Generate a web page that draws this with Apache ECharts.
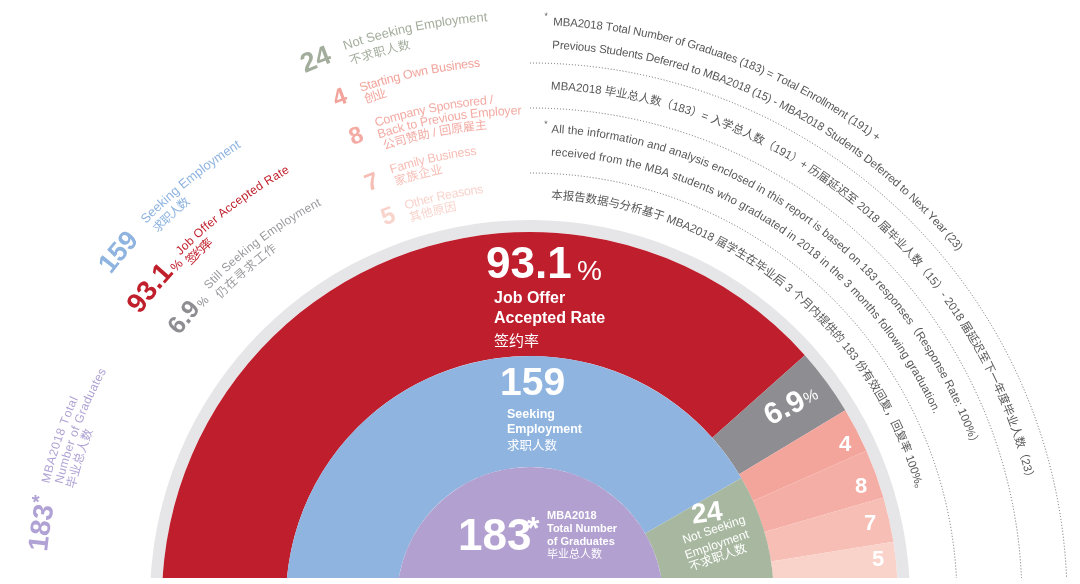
<!DOCTYPE html>
<html>
<head>
<meta charset="utf-8">
<title>MBA2018 Employment</title>
<script src="https://cdn.jsdelivr.net/npm/echarts@6/dist/echarts.min.js"></script>
<style>html,body{margin:0;padding:0;background:#fff}#chart{width:1080px;height:584px}</style>
</head>
<body>
<div id="chart"></div>
<script>
// values
var outerNames = ['Job Offer Accepted', 'Still Seeking Employment', 'Starting Own Business', 'Company Sponsored / Back to Previous Employer', 'Family Business', 'Other Reasons'];
var outerValues = [148, 11, 4, 8, 7, 5];
var innerNames = ['Seeking Employment', 'Not Seeking Employment'];
var innerValues = [159, 24];
var totalGraduates = [183];
var rates = [93.1, 6.9];

var outerColors = ['#bf1e2d', '#8e8d92', '#f3a49b', '#f5aea5', '#f7beb5', '#f9d2ca'];
var innerColors = ['#8fb4e0', '#a8b8a0'];
var coreColor = '#b2a0d0';

var CX = 530, CY = 600;
var FONT = '"Liberation Sans", "Noto Sans CJK SC", Arial, sans-serif';
var mctx = document.createElement('canvas').getContext('2d');
var graphics = [];

// text laid along a circle round the chart centre, reading clockwise
function arcText(str, r, startDeg, size, color, opt) {
  opt = opt || {};
  var weight = opt.weight || 'normal';
  mctx.font = weight + ' ' + size + 'px ' + FONT;
  var chars = Array.from(str);
  var w = chars.map(function (c) { return mctx.measureText(c).width; });
  var total = w.reduce(function (s, v) { return s + v; }, 0);
  var gap = 0;
  if (opt.endDeg != null && chars.length > 1) {
    gap = ((startDeg - opt.endDeg) * Math.PI / 180 * r - total) / (chars.length - 1);
  }
  var a = startDeg * Math.PI / 180;
  chars.forEach(function (c, i) {
    var mid = a - w[i] / 2 / r;
    if (c.trim()) {
      graphics.push({
        type: 'text', silent: true, z: 10,
        x: CX + r * Math.cos(mid), y: CY - r * Math.sin(mid),
        rotation: mid - Math.PI / 2,
        style: { text: c, fontSize: size, fontWeight: weight, fontFamily: FONT, fill: color, align: 'center', verticalAlign: 'middle' }
      });
    }
    a -= (w[i] + gap) / r;
  });
  return a * 180 / Math.PI;
}

function flatText(str, x, y, size, color, opt) {
  opt = opt || {};
  graphics.push({
    type: 'text', silent: true, z: 10, x: x, y: y, rotation: (opt.rot || 0) * Math.PI / 180,
    style: { text: str, fontSize: size, fontWeight: opt.weight || 'normal', fontFamily: FONT, fill: color, align: opt.align || 'left', verticalAlign: 'middle' }
  });
}

// labels inside the rings
flatText(rates[0].toFixed(1), 486, 266, 44, '#fff', { weight: 'bold' });
flatText('%', 577, 272, 28, '#fff');
flatText('Job Offer', 494, 299, 16, '#fff', { weight: 'bold' });
flatText('Accepted Rate', 494, 318.5, 16, '#fff', { weight: 'bold' });
flatText('签约率', 494, 342, 15, '#fff');
flatText(String(innerValues[0]), 500, 384, 39, '#fff', { weight: 'bold' });
flatText('Seeking', 507, 415, 12.5, '#fff', { weight: 'bold' });
flatText('Employment', 507, 430, 12.5, '#fff', { weight: 'bold' });
flatText('求职人数', 507, 447, 12.5, '#fff');
flatText(String(totalGraduates[0]), 458, 538, 44, '#fff', { weight: 'bold' });
flatText('*', 527, 530, 32, '#fff', { weight: 'bold' });
flatText('MBA2018', 547, 516, 11, '#fff', { weight: 'bold' });
flatText('Total Number', 547, 529, 11, '#fff', { weight: 'bold' });
flatText('of Graduates', 547, 542, 11, '#fff', { weight: 'bold' });
flatText('毕业总人数', 547, 555, 11, '#fff');
flatText(rates[1].toFixed(1), 785, 409, 30, '#fff', { weight: 'bold', align: 'center', rot: 27 });
flatText('%', 811, 397, 16, '#fff', { align: 'center', rot: 27 });
flatText(String(innerValues[1]), 707, 514, 28, '#fff', { weight: 'bold', align: 'center', rot: 8 });
flatText('Not Seeking', 714, 530, 12, '#fff', { align: 'center', rot: 19 });
flatText('Employment', 717, 545, 12, '#fff', { align: 'center', rot: 19 });
flatText('不求职人数', 718, 558, 12, '#fff', { align: 'center', rot: 19 });
var pinkPos = [[845, 445], [861, 487], [870, 524], [878, 560]];
outerValues.slice(2).forEach(function (v, i) {
  flatText(String(v), pinkPos[i][0], pinkPos[i][1], 22, '#fff', { weight: 'bold', align: 'center' });
});

// curved labels on the left
var BLUE_T = '#8fb4e0', RED_T = '#c0202b', GREY_T = '#8e8d92', GREY_S = '#9a9a9e', PURPLE_T = '#b0a2d4';
arcText(String(innerValues[0]), 538, 142.2, 27, BLUE_T, { weight: 'bold' });
arcText('Seeking Employment', 541, 135.6, 13, BLUE_T, { endDeg: 122.5 });
arcText('求职人数', 526, 135.4, 12, BLUE_T, { endDeg: 130.5 });
var e = arcText(rates[0].toFixed(1), 491, 143.8, 28, RED_T, { weight: 'bold' });
arcText('%', 486, e - 0.2, 13, RED_T);
arcText('Job Offer Accepted Rate', 494, 135.4, 12, RED_T, { endDeg: 119.3 });
arcText('签约率', 480, 135.4, 12, RED_T, { endDeg: 131.6 });
e = arcText(rates[1].toFixed(1), 446, 143, 25, GREY_T, { weight: 'bold' });
arcText('%', 442, e - 0.2, 12, GREY_T);
arcText('Still Seeking Employment', 450, 136, 12, GREY_S, { endDeg: 117.8 });
arcText('仍在寻求工作', 435, 135.8, 12, GREY_S, { endDeg: 125.8 });
e = arcText(String(totalGraduates[0]), 493, 174.3, 28, PURPLE_T, { weight: 'bold' });
arcText('*', 500, e, 20, PURPLE_T, { weight: 'bold' });
arcText('MBA2018 Total', 498, 166.4, 12, PURPLE_T, { endDeg: 156 });
arcText('Number of Graduates', 485, 166.1, 12, PURPLE_T, { endDeg: 151.6 });
arcText('毕业总人数', 472, 166.3, 12, PURPLE_T, { endDeg: 158.8 });

// curved labels at the top
var GREEN_T = '#a3ad9c', P4 = '#f2a39b', P8 = '#f3aba3', P7 = '#f6bdb5', P5 = '#f9d4cd';
arcText(String(innerValues[1]), 580.5, 113.1, 27, GREEN_T, { weight: 'bold' });
arcText('Not Seeking Employment', 584, 108.6, 13, GREEN_T, { endDeg: 94.2 });
arcText('不求职人数', 567.6, 108.5, 12, GREEN_T, { endDeg: 102.2 });
arcText(String(outerValues[2]), 536.5, 111.45, 24, P4, { weight: 'bold' });
arcText('Starting Own Business', 539, 108.4, 12.5, P4, { endDeg: 95.3 });
arcText('创业', 526.5, 108.3, 12, P4, { endDeg: 105.8 });
arcText(String(outerValues[3]), 494.7, 111.3, 24, P8, { weight: 'bold' });
arcText('Company Sponsored /', 501, 108, 12.5, P8, { endDeg: 94.2 });
arcText('Back to Previous Employer', 489, 108.1, 12.5, P8, { endDeg: 91 });
arcText('公司赞助 / 回原雇主', 476.5, 107.9, 12, P8, { endDeg: 95.2 });
arcText(String(outerValues[4]), 446, 111.6, 24, P7, { weight: 'bold' });
arcText('Family Business', 452, 108, 12.5, P7, { endDeg: 96.8 });
arcText('家族企业', 439, 107.9, 12, P7, { endDeg: 101.5 });
arcText(String(outerValues[5]), 408.4, 111.2, 24, P5, { weight: 'bold' });
arcText('Other Reasons', 413, 107.6, 12.5, P5, { endDeg: 96.5 });
arcText('其他原因', 400, 107.5, 12, P5, { endDeg: 100.6 });

// footnotes on the right
var NOTE = '#585858';
arcText('*', 584, 88.6, 9, NOTE);
arcText('MBA2018 Total Number of Graduates (' + totalGraduates[0] + ') = Total Enrollment (191) +', 578, 87.7, 11.5, NOTE, { endDeg: 52.9 });
arcText('Previous Students Deferred to MBA2018 (15) - MBA2018 Students Deferred to Next Year (23)', 555, 87.7, 11.5, NOTE, { endDeg: 39.2 });
arcText('MBA2018 毕业总人数（' + totalGraduates[0] + '）= 入学总人数（191）+ 历届延迟至 2018 届毕业人数（15）- 2018 届延迟至下一年度毕业人数（23）', 514, 87.66, 11.5, NOTE, { endDeg: 13.2 });
arcText('*', 476, 88.3, 9, NOTE);
arcText('All the information and analysis enclosed in this report is based on 183 responses（Response Rate: 100%）', 471, 87.4, 11.5, NOTE, { endDeg: 18.9 });
arcText('received from the MBA students who graduated in 2018 in the 3 months following graduation.', 448, 87.3, 11.5, NOTE, { endDeg: 24.7 });
arcText('本报告数据与分析基于 MBA2018 届学生在毕业后 3 个月内提供的 183 份有效回复，回复率 100%。', 405, 87, 11.5, NOTE, { endDeg: 15.1 });

[537, 492, 427].forEach(function (r) {
  graphics.push({ type: 'arc', silent: true, z: 5,
    shape: { cx: CX, cy: CY, r: r, startAngle: -Math.PI / 2, endAngle: 0, clockwise: true },
    style: { stroke: '#6a6a6a', lineWidth: 1, lineDash: [1, 2], fill: 'none' } });
});
// white strip along the bottom edge
graphics.push({ type: 'rect', silent: true, z: 50, shape: { x: 0, y: 578, width: 1080, height: 6 }, style: { fill: '#fff' } });

var pieBase = {
  type: 'pie', center: [CX, CY], clockwise: true,
  silent: true, label: { show: false }, labelLine: { show: false },
  emphasis: { disabled: true }, itemStyle: { borderWidth: 0 }
};
// the lower half of the two rings is an invisible slice as large as the shown total
var hidden = { name: 'hidden', itemStyle: { color: 'rgba(0,0,0,0)' } };
function withHidden(values, names, colors) {
  var items = values.map(function (v, i) { return { value: v, name: names[i], itemStyle: { color: colors[i] } }; });
  items.push(Object.assign({ value: values.reduce(function (s, v) { return s + v; }, 0) }, hidden));
  return items;
}

var chart = echarts.init(document.getElementById('chart'), null, { renderer: 'canvas' });
chart.setOption({
  animation: false,
  backgroundColor: '#fff',
  series: [
    Object.assign({}, pieBase, {
      name: 'ring', radius: [368, 380], startAngle: 180, endAngle: 0,
      data: [{ value: totalGraduates[0], name: 'MBA2018', itemStyle: { color: '#e6e6e8' } }]
    }),
    Object.assign({}, pieBase, {
      name: 'outer', radius: [244, 368], startAngle: 184.9, minAngle: 7.1,
      data: withHidden(outerValues, outerNames, outerColors)
    }),
    Object.assign({}, pieBase, {
      name: 'inner', radius: [133, 244], startAngle: 183.4, minAngle: 30,
      data: withHidden(innerValues, innerNames, innerColors)
    }),
    Object.assign({}, pieBase, {
      name: 'core', radius: [0, 133], startAngle: 180, endAngle: 0,
      data: [{ value: totalGraduates[0], name: 'MBA2018 Total Number of Graduates', itemStyle: { color: coreColor } }]
    })
  ],
  graphic: graphics
});
</script>
</body>
</html>
